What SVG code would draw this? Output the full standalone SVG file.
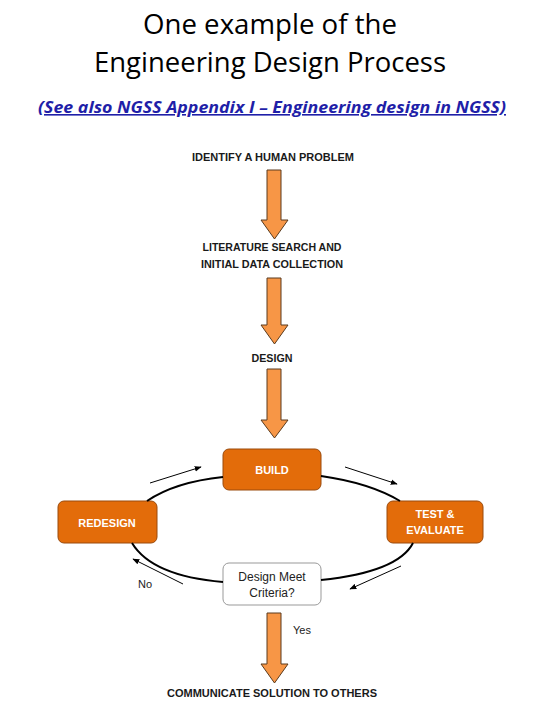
<svg xmlns="http://www.w3.org/2000/svg" width="540" height="720" viewBox="0 0 540 720">
<defs>
<style>
.title{font-family:"Open Sans","Liberation Sans",sans-serif;font-size:28px;fill:#000;text-anchor:middle}
.link{font-family:"Open Sans","Liberation Sans",sans-serif;font-size:16px;font-style:italic;font-weight:bold;fill:#1F1FA8;text-anchor:middle;text-decoration:underline}
.step{font-family:"Liberation Sans",sans-serif;font-size:11px;font-weight:bold;fill:#1a1a1a;text-anchor:middle}
.wlab{font-family:"Liberation Sans",sans-serif;font-size:11px;font-weight:bold;fill:#fff;text-anchor:middle}
.dlab{font-family:"Liberation Sans",sans-serif;font-size:12px;fill:#222;text-anchor:middle}
.small{font-family:"Liberation Sans",sans-serif;font-size:11px;fill:#222}
.bigarrow{fill:#F79646;stroke:#5a3b1e;stroke-width:1}
.box{fill:#E36C0A;stroke:#9a4a0c;stroke-width:1}
.curve{fill:none;stroke:#000;stroke-width:2}
.thin{fill:none;stroke:#000;stroke-width:1}
</style>
<marker id="ah" viewBox="0 0 10 10" refX="9" refY="5" markerWidth="7" markerHeight="7" orient="auto" markerUnits="userSpaceOnUse">
<path d="M0,1 L10,5 L0,9 z" fill="#000"/>
</marker>
</defs>
<rect width="540" height="720" fill="#fff"/>
<g id="title">
<text class="title" x="270" y="34" textLength="254" lengthAdjust="spacingAndGlyphs">One example of the</text>
<text class="title" x="270" y="72" textLength="352" lengthAdjust="spacingAndGlyphs">Engineering Design Process</text>
<text class="link" x="272" y="113" textLength="468" lengthAdjust="spacingAndGlyphs">(See also NGSS Appendix I – Engineering design in NGSS)</text>
</g>
<g id="n-identify"><text class="step" x="273" y="161" textLength="162" lengthAdjust="spacingAndGlyphs">IDENTIFY A HUMAN PROBLEM</text></g>
<g id="n-literature">
<text class="step" x="272" y="251" textLength="139" lengthAdjust="spacingAndGlyphs">LITERATURE SEARCH AND</text>
<text class="step" x="272" y="268" textLength="142" lengthAdjust="spacingAndGlyphs">INITIAL DATA COLLECTION</text>
</g>
<g id="n-design"><text class="step" x="272" y="362" textLength="41" lengthAdjust="spacingAndGlyphs">DESIGN</text></g>
<g id="n-build"><rect class="box" x="223" y="449" width="98" height="41" rx="6"/><text class="wlab" x="272" y="474">BUILD</text></g>
<g id="n-redesign"><rect class="box" x="58" y="501" width="99" height="42" rx="6"/><text class="wlab" x="107" y="527">REDESIGN</text></g>
<g id="n-test"><rect class="box" x="387" y="501" width="96" height="42" rx="6"/><text class="wlab" x="435" y="518">TEST &amp;</text><text class="wlab" x="435" y="534">EVALUATE</text></g>
<g id="n-criteria"><rect x="223" y="563" width="98" height="42" rx="6" fill="#fff" stroke="#999" stroke-width="1"/><text class="dlab" x="272" y="581">Design Meet</text><text class="dlab" x="272" y="597">Criteria?</text></g>
<g id="n-communicate"><text class="step" x="272" y="697" textLength="210" lengthAdjust="spacingAndGlyphs">COMMUNICATE SOLUTION TO OTHERS</text></g>
<g id="connectors">
<path class="bigarrow" d="M267,170 H281 V220 H288 L274.5,239 L261,220 H267 Z"/>
<path class="bigarrow" d="M267,278 H281 V325 H288 L274.5,344 L261,325 H267 Z"/>
<path class="bigarrow" d="M267,369 H281 V420 H288 L274.5,438 L261,420 H267 Z"/>
<path class="bigarrow" d="M267,613 H281 V664 H288 L274.5,683 L261,664 H267 Z"/>
<path class="curve" d="M223,477 Q175,482 147,501"/>
<path class="curve" d="M321,476 Q370,483 400,501"/>
<path class="curve" d="M413,543 Q398,572 321,580"/>
<path class="curve" d="M223,582 Q152,576 132,543"/>
<line class="thin" x1="150" y1="483" x2="201" y2="467" marker-end="url(#ah)"/>
<line class="thin" x1="345" y1="467" x2="397" y2="484" marker-end="url(#ah)"/>
<line class="thin" x1="401" y1="566" x2="350" y2="589" marker-end="url(#ah)"/>
<line class="thin" x1="183" y1="584" x2="133" y2="559" marker-end="url(#ah)"/>
<text class="small" x="138" y="588">No</text>
<text class="small" x="293" y="634">Yes</text>
</g>
</svg>
